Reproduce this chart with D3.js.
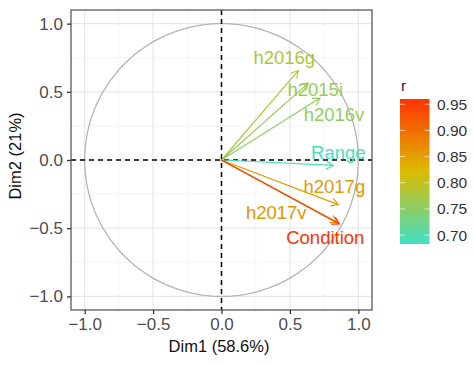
<!DOCTYPE html>
<html><head><meta charset="utf-8">
<script src="https://cdn.jsdelivr.net/npm/d3@7"></script>
<style>body{margin:0;background:#fff}svg{display:block;font-family:"Liberation Sans",Arial,sans-serif}</style>
</head><body>
<svg id="c" width="474" height="365"></svg>
<script>
// ---- data ----
const variables = ["h2016g","h2015i","h2016v","Range","h2017g","h2017v","Condition"];
const dim1 = [0.561, 0.634, 0.720, 0.817, 0.854, 0.846, 0.861];
const dim2 = [0.656, 0.564, 0.454, -0.040, -0.327, -0.457, -0.469];
const rValues = [0.78, 0.76, 0.755, 0.69, 0.855, 0.86, 0.96];
const axisTicks = [-1.0, -0.5, 0.0, 0.5, 1.0];
const legendTicks = [0.70, 0.75, 0.80, 0.85, 0.90, 0.95];
const xTitle = "Dim1 (58.6%)";
const yTitle = "Dim2 (21%)";
const legendTitle = "r";

// ---- layout (pixel offsets of labels relative to arrow tips) ----
const labelOffsets = {
  h2016g:[-14,-7], h2015i:[7,13], h2016v:[14,23], Range:[5,-6],
  h2017g:[-4,-12], h2017v:[-61,-3], Condition:[-14,20]
};

const svg = d3.select("#c");
const P = {l:71, r:372, t:10, b:310};
const x = d3.scaleLinear().domain([-1.1,1.1]).range([P.l,P.r]);
const y = d3.scaleLinear().domain([-1.1,1.1]).range([P.b,P.t]);
const col = d3.scaleLinear().domain([0.683,0.8215,0.96]).range(["#40E0C8","#DDBB00","#FF3300"]).interpolate(d3.interpolateRgb);

// grid
const g = svg.append("g");
const minor = [-0.75,-0.25,0.25,0.75];
minor.forEach(v=>{
  g.append("line").attr("x1",x(v)).attr("x2",x(v)).attr("y1",P.t).attr("y2",P.b).attr("stroke","#f3f3f3").attr("stroke-width",0.8);
  g.append("line").attr("y1",y(v)).attr("y2",y(v)).attr("x1",P.l).attr("x2",P.r).attr("stroke","#f3f3f3").attr("stroke-width",0.8);
});
axisTicks.forEach(v=>{
  g.append("line").attr("x1",x(v)).attr("x2",x(v)).attr("y1",P.t).attr("y2",P.b).attr("stroke","#e8e8e8").attr("stroke-width",1.2);
  g.append("line").attr("y1",y(v)).attr("y2",y(v)).attr("x1",P.l).attr("x2",P.r).attr("stroke","#e8e8e8").attr("stroke-width",1.2);
});

// circle
const circ = d3.range(0,361,2).map(a=>[Math.cos(a*Math.PI/180),Math.sin(a*Math.PI/180)]);
svg.append("path").attr("d",d3.line().x(d=>x(d[0])).y(d=>y(d[1]))(circ))
  .attr("fill","none").attr("stroke","#b4b4b4").attr("stroke-width",1.3);

// dashed axes
svg.append("line").attr("x1",x(0)).attr("x2",x(0)).attr("y1",P.t).attr("y2",P.b).attr("stroke","#000").attr("stroke-width",1.5).attr("stroke-dasharray","5,4");
svg.append("line").attr("y1",y(0)).attr("y2",y(0)).attr("x1",P.l).attr("x2",P.r).attr("stroke","#000").attr("stroke-width",1.5).attr("stroke-dasharray","5,4");

// arrows
const data = variables.map((v,i)=>({name:v,x:dim1[i],y:dim2[i],r:rValues[i]}));
const arrows = svg.append("g");
data.forEach(d=>{
  const x0=x(0), y0=y(0), x1=x(d.x), y1=y(d.y);
  const ang=Math.atan2(y1-y0,x1-x0), L=8, a=Math.PI/6;
  const c=col(d.r);
  arrows.append("line").attr("x1",x0).attr("y1",y0).attr("x2",x1).attr("y2",y1).attr("stroke",c).attr("stroke-width",1.2);
  arrows.append("path").attr("d",`M${x1-L*Math.cos(ang-a)},${y1-L*Math.sin(ang-a)}L${x1},${y1}L${x1-L*Math.cos(ang+a)},${y1-L*Math.sin(ang+a)}`)
    .attr("fill","none").attr("stroke",c).attr("stroke-width",1.2);
});
data.forEach(d=>{
  const o=labelOffsets[d.name];
  svg.append("text").attr("x",x(d.x)+o[0]).attr("y",y(d.y)+o[1]).attr("text-anchor","middle")
    .attr("font-size",18.5).attr("fill",col(d.r)).text(d.name);
});

// panel border
svg.append("rect").attr("x",P.l).attr("y",P.t).attr("width",P.r-P.l).attr("height",P.b-P.t)
  .attr("fill","none").attr("stroke","#5a5a5a").attr("stroke-width",1.3);

// axes
const xa = svg.append("g").attr("transform",`translate(0,${P.b})`)
  .call(d3.axisBottom(x).tickValues(axisTicks).tickFormat(d3.format(".1f")).tickSize(4).tickPadding(4));
const ya = svg.append("g").attr("transform",`translate(${P.l},0)`)
  .call(d3.axisLeft(y).tickValues(axisTicks).tickFormat(d3.format(".1f")).tickSize(4).tickPadding(4));
[xa,ya].forEach(a=>{
  a.select(".domain").remove();
  a.selectAll(".tick line").attr("stroke","#333").attr("stroke-width",1.3);
  a.selectAll("text").attr("font-size",17).attr("fill","#4d4d4d").attr("font-family","Liberation Sans, Arial, sans-serif")
   .text(function(d){return d3.format(".1f")(d).replace("-","\u2212");});
});

svg.append("text").attr("x",219).attr("y",352).attr("text-anchor","middle").attr("font-size",16.5).attr("fill","#111").text(xTitle);
svg.append("text").attr("transform","translate(21,156) rotate(-90)").attr("text-anchor","middle").attr("font-size",16.5).attr("fill","#111").text(yTitle);

// legend
const LB={x:400,w:29.5,t:99,b:244};
const ly = d3.scaleLinear().domain([0.683,0.96]).range([LB.b,LB.t]);
const defs = svg.append("defs");
const grad = defs.append("linearGradient").attr("id","lg").attr("x1",0).attr("y1",1).attr("x2",0).attr("y2",0);
d3.range(0,1.0001,0.05).forEach(t=>{
  grad.append("stop").attr("offset",t).attr("stop-color",col(0.683+t*(0.96-0.683)));
});
svg.append("rect").attr("x",LB.x).attr("y",LB.t).attr("width",LB.w).attr("height",LB.b-LB.t).attr("fill","url(#lg)");
legendTicks.forEach(v=>{
  svg.append("line").attr("x1",LB.x).attr("x2",LB.x+5).attr("y1",ly(v)).attr("y2",ly(v)).attr("stroke","#fff").attr("stroke-opacity",0.6);
  svg.append("line").attr("x1",LB.x+LB.w-5).attr("x2",LB.x+LB.w).attr("y1",ly(v)).attr("y2",ly(v)).attr("stroke","#fff").attr("stroke-opacity",0.6);
  svg.append("text").attr("x",437).attr("y",ly(v)+5.5).attr("font-size",15.5).attr("fill","#333").text(d3.format(".2f")(v));
});
svg.append("text").attr("x",401).attr("y",91).attr("font-size",15).attr("fill","#222").text(legendTitle);
</script>
</body></html>
